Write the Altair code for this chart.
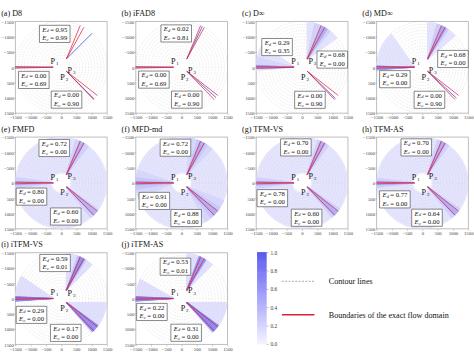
import math
import altair as alt
import pandas as pd

FONT = "Liberation Serif"
R = 1500          # cone radius (m)
HOLE = 320        # unreached area around the apex
PW = 96           # panel plot size (px)

titles = ["(a) D8", "(b) iFAD8", "(c) D\u221e", "(d) MD\u221e", "(e) FMFD",
          "(f) MFD-md", "(g) TFM-VS", "(h) TFM-AS", "(i) iTFM-VS", "(j) iTFM-AS"]

points = {"P1": (-260, 0), "P2": (170, 130), "P3": (170, -270)}

# boundaries of the exact flow domain (direction, deg clockwise from north)
exact_bounds = [("P1", 268.6), ("P1", 271.0), ("P3", 22.5), ("P3", 29.0),
                ("P2", 128.0), ("P2", 136.0)]

# single-direction flow paths drawn by each method
method_paths = [
    [("P1", 270), ("P3", 45), ("P2", 135)],
    [("P1", 270), ("P3", 25.5), ("P2", 132)],
    [("P2", 134)],
    [("P2", 133)],
    [], [], [], [], [], [],
]

# background flow over the whole cone surface (None = none)
disc_value = [None, None, None, None, 0.10, 0.10, 0.10, 0.10, None, None]

# flow-accumulation sectors: (source, from deg, to deg, value 0-1)
sectors = [
    [],
    [],
    [("P1", 265, 306, 0.10), ("P1", 268, 285, 0.18), ("P1", 268, 273, 0.55),
     ("P3", 0, 55, 0.10), ("P3", 12, 40, 0.22), ("P3", 24, 34, 0.45)],
    [("P1", 268, 325, 0.10), ("P1", 266, 272, 0.60),
     ("P3", 0, 50, 0.10), ("P3", 15, 35, 0.25), ("P3", 24, 31, 0.50)],
    [("P1", 262, 278, 0.22), ("P1", 267, 272, 0.42),
     ("P3", 15, 38, 0.22), ("P3", 22, 30, 0.42), ("P2", 125, 142, 0.22), ("P2", 129, 136, 0.42)],
    [("P1", 245, 290, 0.18), ("P1", 260, 278, 0.28), ("P1", 267, 272, 0.45),
     ("P3", 5, 45, 0.18), ("P3", 17, 35, 0.28), ("P3", 22, 30, 0.45),
     ("P2", 110, 152, 0.18), ("P2", 122, 142, 0.28), ("P2", 129, 136, 0.45)],
    [("P1", 262, 278, 0.22), ("P1", 267, 272, 0.45),
     ("P3", 17, 36, 0.22), ("P3", 22, 30, 0.45), ("P2", 124, 141, 0.22), ("P2", 129, 136, 0.45)],
    [("P1", 263, 277, 0.22), ("P1", 267, 272, 0.45),
     ("P3", 16, 36, 0.22), ("P3", 22, 30, 0.45), ("P2", 124, 142, 0.22), ("P2", 129, 136, 0.45)],
    [("P1", 270, 305, 0.12), ("P1", 266, 273, 0.70), ("P3", 0, 45, 0.12),
     ("P3", 18, 33, 0.30), ("P3", 22, 30, 0.65), ("P2", 90, 140, 0.12), ("P2", 126, 138, 0.65)],
    [("P1", 270, 300, 0.12), ("P1", 266, 273, 0.70), ("P3", 0, 45, 0.12),
     ("P3", 20, 32, 0.60), ("P2", 90, 140, 0.12), ("P2", 126, 138, 0.70)],
]

contour_radii = [300, 400, 500, 600, 700, 800, 900, 1000, 1100, 1200, 1300, 1400, 1500]

Ed_P1 = [0.00, 0.00, 0.29, 0.29, 0.80, 0.91, 0.78, 0.77, 0.29, 0.22]
Ec_P1 = [0.69, 0.69, 0.35, 0.00, 0.00, 0.00, 0.00, 0.00, 0.00, 0.00]
Ed_P2 = [0.00, 0.00, 0.00, 0.00, 0.60, 0.88, 0.60, 0.64, 0.17, 0.31]
Ec_P2 = [0.90, 0.90, 0.90, 0.90, 0.00, 0.00, 0.00, 0.00, 0.00, 0.00]
Ed_P3 = [0.95, 0.02, 0.68, 0.68, 0.72, 0.72, 0.70, 0.70, 0.59, 0.53]
Ec_P3 = [0.99, 0.81, 0.00, 0.00, 0.00, 0.00, 0.00, 0.00, 0.01, 0.01]

# annotation box centres (m)
box_P1 = [(-895, 415), (-905, 405), (-815, -660), (-900, 390), (-970, 450),
          (-890, 590), (-970, 500), (-900, 540), (-970, 535), (-970, 440)]
box_P2 = [(175, 1060), (170, 1060), (260, 1065), (230, 1065), (150, 1100),
          (150, 1150), (150, 1140), (150, 1140), (150, 1125), (150, 1120)]
box_P3 = [(-210, -1090), (-175, -1105), (990, -250), (1000, -270), (-225, -1140),
          (-200, -1150), (-200, -1160), (-200, -1160), (-200, -1160), (-200, -1040)]

lab_P1 = (-240, -200)
lab_P2 = (80, 310)
lab_P3_y = [95, 95, -200, 80, -235, -235, -235, -235, -170, -260]

cbar_ticks = [0.0, 0.2, 0.4, 0.6, 0.8, 1.0]

BOX_W, BOX_H = 1000, 560
RAY_STEP = 0.6    # deg between rays used to paint a sector

# ---------------------------------------------------------------- helpers
def ray_len(p, th):
    px, py = p
    dx, dy = math.sin(math.radians(th)), -math.cos(math.radians(th))
    b = px * dx + py * dy
    return -b + math.sqrt(b * b - (px * px + py * py) + R * R)


def ray_rows(src, th):
    p = points[src]
    L = ray_len(p, th)
    return dict(x=p[0], y=p[1],
                x2=p[0] + L * math.sin(math.radians(th)),
                y2=p[1] - L * math.cos(math.radians(th)))


def sector_table(secs):
    rows = []
    for src, t1, t2, v in secs:
        n = max(1, math.ceil((t2 - t1) / RAY_STEP))
        for k in range(n + 1):
            d = ray_rows(src, t1 + (t2 - t1) * k / n)
            d["v"] = v
            rows.append(d)
    return pd.DataFrame(rows).sort_values("v", kind="stable")


def ray_table(rays):
    return pd.DataFrame([ray_rows(s, t) for s, t in rays])


xs = alt.Scale(domain=[-1500, 1500], nice=False, zero=False)
ys = alt.Scale(domain=[-1500, 1500], nice=False, zero=False, reverse=True)
ss = alt.Scale(type="pow", exponent=2, domain=[0, 1500], range=[0, PW * PW])
cs = alt.Scale(domain=[0, 1], range=["#f4f4ff", "#5a5aee"])

ticks = [-1500, -1000, -500, 0, 500, 1000, 1500]
xaxis = alt.Axis(values=ticks, title="", format="d", labelOverlap=False, labelFlush=False, grid=False)
yaxis = alt.Axis(values=ticks, title="", format="d", labelOverlap=False, labelFlush=False, grid=False)


def X(f):
    return alt.X(f, scale=xs, axis=xaxis)


def Y(f):
    return alt.Y(f, scale=ys, axis=yaxis)


def panel(i):
    layers = []
    if disc_value[i] is not None:
        dd = pd.DataFrame({"cx": [0], "cy": [0], "r": [R], "v": [disc_value[i]]})
        layers.append(alt.Chart(dd).mark_point(shape="circle", filled=True, opacity=1,
                                               strokeWidth=0).encode(
            x=X("cx:Q"), y=Y("cy:Q"),
            size=alt.Size("r:Q", scale=ss, legend=None),
            color=alt.Color("v:Q", scale=cs, legend=None)))
        hd = pd.DataFrame({"cx": [0], "cy": [0], "r": [HOLE]})
        layers.append(alt.Chart(hd).mark_point(shape="circle", filled=True, opacity=1,
                                               strokeWidth=0, color="white").encode(
            x=X("cx:Q"), y=Y("cy:Q"),
            size=alt.Size("r:Q", scale=ss, legend=None)))
    if sectors[i]:
        layers.append(alt.Chart(sector_table(sectors[i])).mark_rule(
            strokeWidth=1.1, strokeCap="butt").encode(
            x=X("x:Q"), y=Y("y:Q"), x2="x2:Q", y2="y2:Q",
            color=alt.Color("v:Q", scale=cs, legend=None)))
    circ = pd.DataFrame({"cx": 0, "cy": 0, "r": contour_radii})
    layers.append(alt.Chart(circ).mark_point(
        shape="circle", filled=False, opacity=1, color="#c2c2c2",
        strokeWidth=0.4, strokeDash=[1.2, 1.4]
    ).encode(x=X("cx:Q"), y=Y("cy:Q"),
             size=alt.Size("r:Q", scale=ss, legend=None)))
    if method_paths[i]:
        layers.append(alt.Chart(ray_table(method_paths[i])).mark_rule(
            color="#4646e0", strokeWidth=0.9, opacity=0.9
        ).encode(x=X("x:Q"), y=Y("y:Q"), x2="x2:Q", y2="y2:Q"))
    layers.append(alt.Chart(ray_table(exact_bounds)).mark_rule(
        color="#d9233a", strokeWidth=0.9, opacity=0.85
    ).encode(x=X("x:Q"), y=Y("y:Q"), x2="x2:Q", y2="y2:Q"))

    boxes = []
    for (bx, by), ed, ec in [(box_P1[i], Ed_P1[i], Ec_P1[i]),
                             (box_P2[i], Ed_P2[i], Ec_P2[i]),
                             (box_P3[i], Ed_P3[i], Ec_P3[i])]:
        boxes.append(dict(bx=bx, by=by, x1=bx - BOX_W / 2, x2=bx + BOX_W / 2,
                          y1=by - BOX_H / 2, y2=by + BOX_H / 2,
                          ed=f"= {ed:.2f}", ec=f"= {ec:.2f}"))
    bdf = pd.DataFrame(boxes)
    layers.append(alt.Chart(bdf).mark_rect(fill="white", stroke="#333333", strokeWidth=0.6).encode(
        x=X("x1:Q"), x2="x2:Q", y=Y("y1:Q"), y2="y2:Q"))
    tb = alt.Chart(bdf).encode(x=X("bx:Q"), y=Y("by:Q"))
    common = dict(font=FONT, align="left", baseline="middle", color="#111111")
    for dy, sub, fld in [(-4.3, "d", "ed"), (4.5, "c", "ec")]:
        layers.append(tb.mark_text(text="E", fontStyle="italic", fontSize=7, dx=-13, dy=dy, **common))
        layers.append(tb.mark_text(text=sub, fontStyle="italic", fontSize=4.8, dx=-8.6, dy=dy + 1.8, **common))
        layers.append(tb.mark_text(fontSize=7, dx=-4.8, dy=dy, **common).encode(text=f"{fld}:N"))

    ldf = pd.DataFrame([dict(x=lab_P1[0], y=lab_P1[1], n="1"),
                        dict(x=lab_P2[0], y=lab_P2[1], n="2"),
                        dict(x=320, y=lab_P3_y[i], n="3")])
    lb = alt.Chart(ldf).encode(x=X("x:Q"), y=Y("y:Q"))
    layers.append(lb.mark_text(text="P", fontSize=8.5, dx=-3.5, **common))
    layers.append(lb.mark_text(fontSize=5.2, dx=2.2, dy=2.2, **common).encode(text="n:N"))

    return alt.layer(*layers).properties(
        width=PW, height=PW,
        title=alt.TitleParams(titles[i], anchor="start", frame="bounds", font=FONT,
                              fontSize=8.5, fontWeight="normal", offset=2, color="#111111"))


# ---------------------------------------------------------------- legend
LW = 226
one = pd.DataFrame({"a": [0]})
ly = alt.Scale(domain=[0, 1], nice=False)
steps = pd.DataFrame({"lo": [k / 50 for k in range(50)]})
steps["hi"] = steps["lo"] + 0.026
steps["mid"] = steps["lo"] + 0.01
cbar = alt.Chart(steps).mark_rect(strokeWidth=0).encode(
    x=alt.value(16), x2=alt.value(26),
    y=alt.Y("lo:Q", scale=ly, axis=None), y2="hi:Q",
    color=alt.Color("mid:Q", scale=cs, legend=None))
tdf = pd.DataFrame({"t": cbar_ticks, "s": [f"{t:.1f}" for t in cbar_ticks]})
ctick = alt.Chart(tdf).mark_rule(color="#777777", strokeWidth=0.5).encode(
    x=alt.value(26), x2=alt.value(28), y=alt.Y("t:Q", scale=ly, axis=None))
clab = alt.Chart(tdf).mark_text(font=FONT, fontSize=5.5, align="left", baseline="middle",
                                color="#333333").encode(
    x=alt.value(30), y=alt.Y("t:Q", scale=ly, axis=None), text="s:N")
dash = alt.Chart(one).mark_rule(color="#8a8a8a", strokeWidth=0.8, strokeDash=[2, 1.5]).encode(
    x=alt.value(42), x2=alt.value(76), y=alt.value(30))
redl = alt.Chart(one).mark_rule(color="#d9233a", strokeWidth=1.4).encode(
    x=alt.value(42), x2=alt.value(76), y=alt.value(65))
t1 = alt.Chart(one).mark_text(text="Contour lines", font=FONT, fontSize=8.5, align="left",
                              baseline="middle", color="#111111").encode(x=alt.value(91), y=alt.value(30))
t2 = alt.Chart(one).mark_text(text="Boundaries of the exact flow domain", font=FONT, fontSize=8.5,
                              align="left", baseline="middle", color="#111111").encode(
    x=alt.value(91), y=alt.value(65))
legend = alt.layer(cbar, ctick, clab, dash, redl, t1, t2).properties(
    width=LW, height=PW, view=alt.ViewBackground(stroke="transparent"),
    title=alt.TitleParams("-", anchor="start", frame="bounds", font=FONT, color="white",
                          fontSize=8.5, fontWeight="normal", offset=2))

SP = 8
row1 = alt.hconcat(panel(0), panel(1), panel(2), panel(3), spacing=SP)
row2 = alt.hconcat(panel(4), panel(5), panel(6), panel(7), spacing=SP)
row3 = alt.hconcat(panel(8), panel(9), legend, spacing=SP)

chart = alt.vconcat(row1, row2, row3, spacing=4).properties(
    padding={"left": 0, "top": 1, "right": 0, "bottom": 0}
).configure_view(stroke="#8c8c8c", strokeWidth=0.6).configure_axis(
    labelFont=FONT, labelFontSize=5, labelColor="#444444", tickSize=1.5,
    tickColor="#888888", tickWidth=0.5, labelPadding=0.5, domain=False
)

chart.save("out.html", embed_options={"renderer": "svg", "actions": False})
